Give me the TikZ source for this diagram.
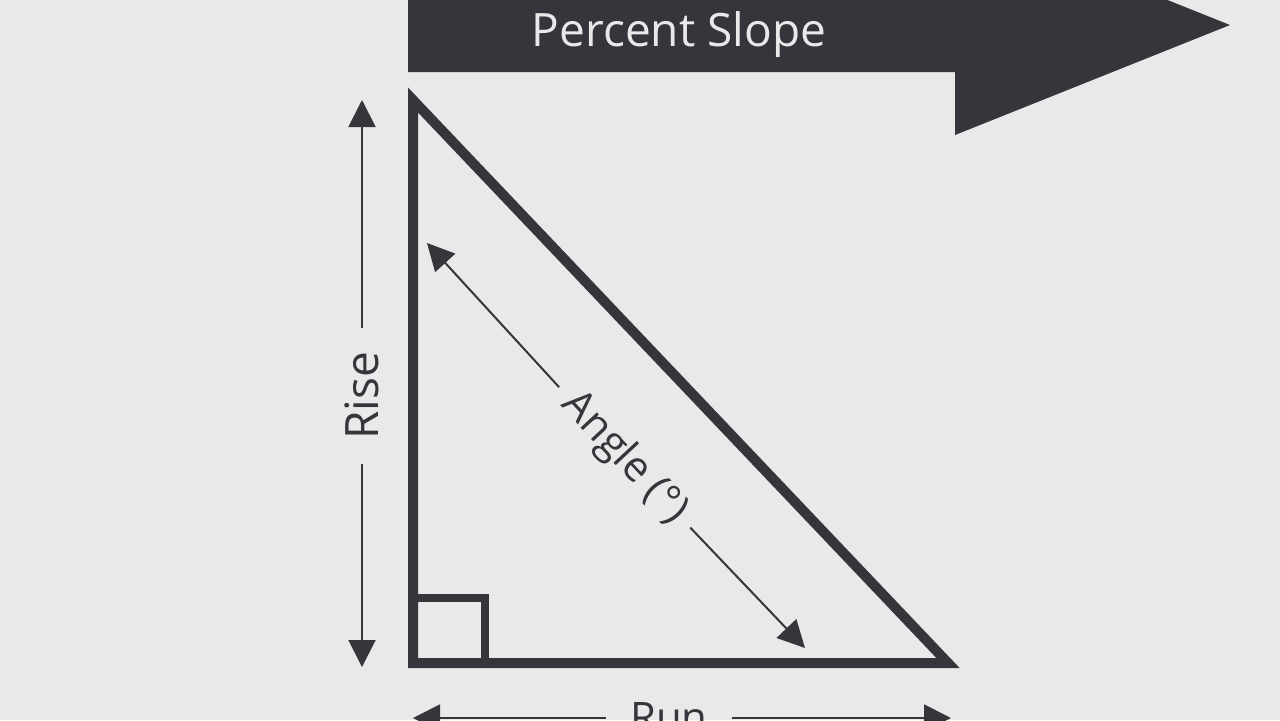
\documentclass[tikz,border=0pt]{standalone}
\usepackage{fontspec}
\setmainfont{Open Sans}
\usetikzlibrary{positioning}
\usetikzlibrary{calc}
\usetikzlibrary{arrows.meta}
\definecolor{paper}{RGB}{233,233,233}
\definecolor{ink}{RGB}{52,54,59}
\tikzset{
	x=0.5pt, y=-0.5pt,
	side/.style={draw=ink, line width=5pt, line join=miter, miter limit=20},
	tick/.style={draw=ink, line width=4pt},
	dim/.style={draw=ink, line width=1pt, -{Triangle[length=13.5pt,width=13.5pt]}},
	lbl/.style={text=ink, font=\fontsize{21}{24}\selectfont, inner sep=0pt},
	banner/.style={fill=ink, draw=none}
}

\begin{document}
\begin{tikzpicture}
	\clip (0,0) rectangle (1280,720);
	\fill[paper] (0,0) rectangle (1280,720);

	% Title arrow
	\fill[banner] (408,-30) -- (955,-30) -- (955,-85) -- (1230,25) -- (955,135) -- (955,72) -- (408,72) -- cycle;
	\node (title) at (679,35) [text=paper, font=\fontsize{23}{26}\selectfont] {Percent Slope};

	% Triangle
	\coordinate (top) at (413,100);
	\coordinate (foot) at (413,663);
	\coordinate (tip) at (948,663);
	\draw[side] (top) -- (foot) -- (tip) -- cycle;
	\draw[tick] (foot) ++(0,-65) -| ($(foot)+(72,0)$);

	% Rise
	\coordinate (risetop) at (362,100);
	\coordinate (risebot) at (362,667);
	\node (rise) at (362,396) [lbl, font=\fontsize{23}{26}\selectfont, rotate=90, inner xsep=12pt] {Rise};
	\draw[dim] (rise) -- (risetop);
	\draw[dim] (rise) -- (risebot);

	% Angle
	\coordinate (angtop) at (427,243);
	\coordinate (angbot) at (805,648);
	\node (angle) at (624,458) [lbl, rotate=-47, inner xsep=7pt] {Angle (°)};
	\draw[dim] (angle) -- (angtop);
	\draw[dim] (angle) -- (angbot);

	% Run
	\coordinate (runleft) at (413,718);
	\coordinate (runright) at (951,718);
	\node (run) at (669,718) [lbl, inner xsep=12pt] {Run};
	\draw[dim] (run) -- (runleft);
	\draw[dim] (run) -- (runright);
\end{tikzpicture}
\end{document}
